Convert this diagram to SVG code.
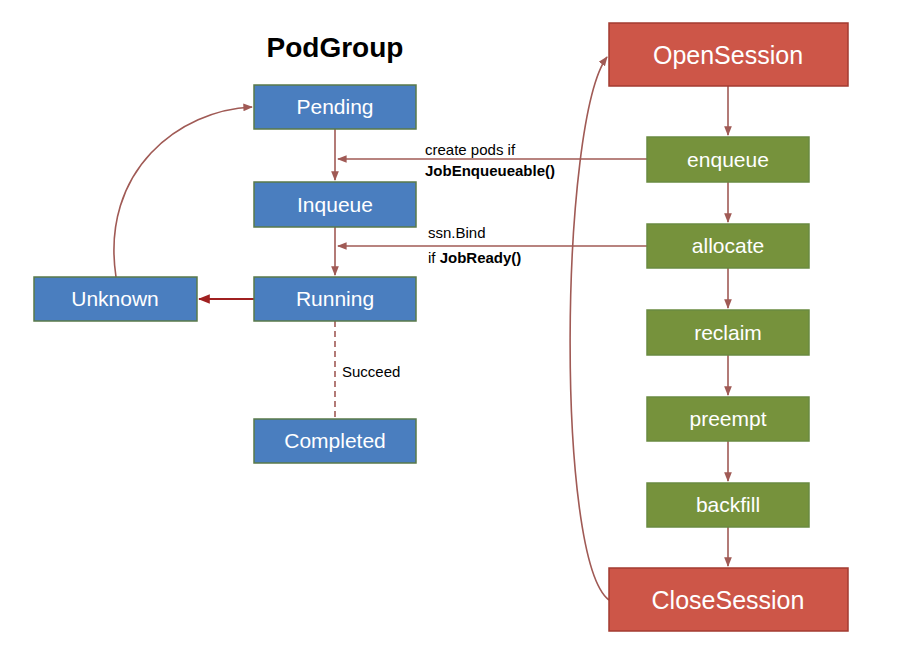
<svg xmlns="http://www.w3.org/2000/svg" width="897" height="650" viewBox="0 0 897 650">
<style>
.b rect{fill:#4a7ebf;stroke:#5a7a4a;stroke-width:1.5}
.g rect{fill:#76923c;stroke:#6a8a40;stroke-width:1.5}
.r rect{fill:#cd5648;stroke:#a33b30;stroke-width:1.5}
.n text{font-family:"Liberation Sans",Arial,sans-serif;fill:#fff;text-anchor:middle;font-size:21px}
.r text{font-size:25px}
.c{fill:none;stroke:#a05a55;stroke-width:1.6}
.l{font-family:"Liberation Sans",Arial,sans-serif;font-size:15px;fill:#000}
</style>
<defs>
<marker id="a" viewBox="0 0 10 10" refX="9" refY="5" markerWidth="6" markerHeight="6" orient="auto"><path d="M0,1 L10,5 L0,9z" fill="#a05a55"/></marker>
<marker id="ad" viewBox="0 0 10 10" refX="9" refY="5" markerWidth="6" markerHeight="6" orient="auto"><path d="M0,1 L10,5 L0,9z" fill="#a02020"/></marker>
</defs>
<rect width="897" height="650" fill="#fff"/>
<text x="335" y="57" font-family="Liberation Sans,Arial,sans-serif" font-weight="bold" font-size="28" text-anchor="middle">PodGroup</text>
<g id="connectors">
<path class="c" d="M335,129 V180" marker-end="url(#a)"/>
<path class="c" d="M335,227 V275" marker-end="url(#a)"/>
<path class="c" d="M335,321 V417" stroke-dasharray="6,4"/>
<path d="M254,299 H199" stroke="#a02020" stroke-width="2" fill="none" marker-end="url(#ad)"/>
<path class="c" d="M116,277 C100,170 180,110 252,107" marker-end="url(#a)"/>
<path class="c" d="M647,159 H338" marker-end="url(#a)"/>
<path class="c" d="M647,246 H338" marker-end="url(#a)"/>
<path class="c" d="M728,86 V135" marker-end="url(#a)"/>
<path class="c" d="M728,182 V222" marker-end="url(#a)"/>
<path class="c" d="M728,268 V308" marker-end="url(#a)"/>
<path class="c" d="M728,355 V395" marker-end="url(#a)"/>
<path class="c" d="M728,441 V481" marker-end="url(#a)"/>
<path class="c" d="M728,527 V566" marker-end="url(#a)"/>
<path class="c" d="M609,600 C555,560 560,120 607,57" marker-end="url(#a)"/>
<text class="l" x="425" y="155">create pods if</text>
<text class="l" x="425" y="176" font-weight="bold">JobEnqueueable()</text>
<text class="l" x="428" y="238">ssn.Bind</text>
<text class="l" x="428" y="263">if <tspan font-weight="bold">JobReady()</tspan></text>
<text class="l" x="342" y="377">Succeed</text>
</g>
<g id="pending" class="n b"><rect x="254" y="85" width="162" height="44"/><text x="335" y="114">Pending</text></g>
<g id="inqueue" class="n b"><rect x="254" y="182" width="162" height="45"/><text x="335" y="212">Inqueue</text></g>
<g id="running" class="n b"><rect x="254" y="277" width="162" height="44"/><text x="335" y="306">Running</text></g>
<g id="completed" class="n b"><rect x="254" y="419" width="162" height="44"/><text x="335" y="448">Completed</text></g>
<g id="unknown" class="n b"><rect x="34" y="277" width="163" height="44"/><text x="115" y="306">Unknown</text></g>
<g id="opensession" class="n r"><rect x="609" y="23" width="239" height="63"/><text x="728" y="64">OpenSession</text></g>
<g id="enqueue" class="n g"><rect x="647" y="137" width="162" height="45"/><text x="728" y="167">enqueue</text></g>
<g id="allocate" class="n g"><rect x="647" y="224" width="162" height="44"/><text x="728" y="253">allocate</text></g>
<g id="reclaim" class="n g"><rect x="647" y="310" width="162" height="45"/><text x="728" y="340">reclaim</text></g>
<g id="preempt" class="n g"><rect x="647" y="397" width="162" height="44"/><text x="728" y="426">preempt</text></g>
<g id="backfill" class="n g"><rect x="647" y="483" width="162" height="44"/><text x="728" y="512">backfill</text></g>
<g id="closesession" class="n r"><rect x="609" y="568" width="239" height="63"/><text x="728" y="609">CloseSession</text></g>
</svg>
